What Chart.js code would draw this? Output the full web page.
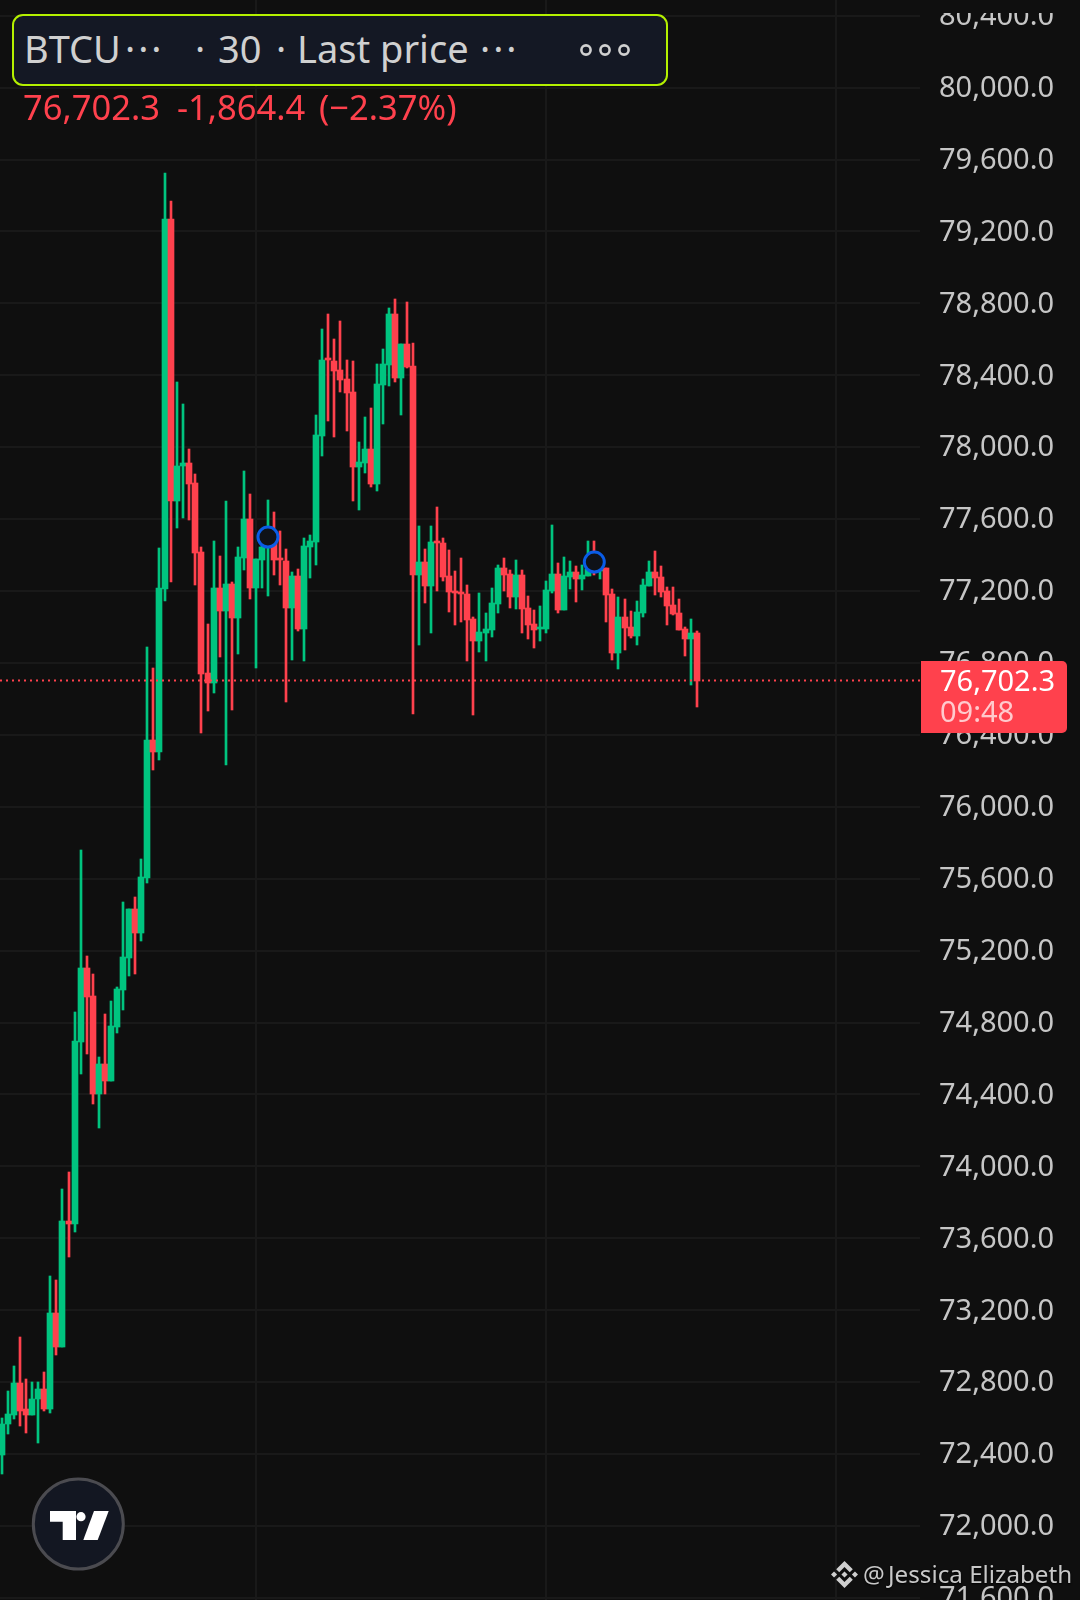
<!DOCTYPE html>
<html>
<head>
<meta charset="utf-8">
<title>BTCU 30 Last price</title>
<script src="https://cdn.jsdelivr.net/npm/chart.js@4"></script>
<style>
html,body{margin:0;padding:0;background:#0f0f0f;width:1080px;height:1600px;overflow:hidden}
body{position:relative;font-family:"Noto Sans",sans-serif}
canvas{position:absolute;left:0;top:0}
.t{position:absolute;white-space:pre;line-height:1}
.h{font-size:38px;color:#d0d0d0;top:29px}
.d{letter-spacing:3px}
.r{font-size:34.5px;color:#ff414d;top:90px}
#head{position:absolute;left:11.5px;top:14px;width:652px;height:68px;border:2px solid #b4f000;border-radius:11px;background:#141824}
#priceTag{position:absolute;left:921px;top:661px;width:146px;height:72px;background:#ff414d;border-radius:0 5px 5px 0}
#topCover{position:absolute;left:921px;top:0;width:159px;height:13px;background:#0f0f0f}
</style>
</head>
<body>
<canvas id="c" width="1080" height="1600"></canvas>
<div id="topCover"></div>
<div id="head"></div>
<div class="t h" style="left:24px">BTCU</div>
<div class="t h d" style="left:125px">···</div>
<div class="t h" style="left:195px">·</div>
<div class="t h" style="left:218px">30</div>
<div class="t h" style="left:276px">·</div>
<div class="t h" style="left:297px">Last price</div>
<div class="t h d" style="left:480px">···</div>
<svg style="position:absolute;left:575px;top:40px" width="62" height="20">
  <circle cx="11" cy="10" r="4.6" fill="none" stroke="#d0d0d0" stroke-width="2.6"/>
  <circle cx="30" cy="10" r="4.6" fill="none" stroke="#d0d0d0" stroke-width="2.6"/>
  <circle cx="49" cy="10" r="4.6" fill="none" stroke="#d0d0d0" stroke-width="2.6"/>
</svg>
<div class="t r" style="left:23px">76,702.3</div>
<div class="t r" style="left:177px">-1,864.4</div>
<div class="t r" style="left:319px">(−2.37%)</div>
<div id="priceTag"></div>
<div class="t" style="left:940px;top:665px;font-size:29px;color:#ffffff">76,702.3</div>
<div class="t" style="left:940px;top:696px;font-size:29px;color:rgba(255,255,255,.72)">09:48</div>
<svg style="position:absolute;left:0;top:1470px" width="140" height="110">
  <circle cx="78.3" cy="54" r="45" fill="#131722" stroke="#4b4b50" stroke-width="3"/>
  <path d="M50 41H76V70H62.7V51.7H50Z" fill="#fff"/>
  <circle cx="81" cy="46.7" r="4.6" fill="#fff"/>
  <path d="M94 41H108.7L97.7 70H83.3Z" fill="#fff"/>
</svg>
<svg style="position:absolute;left:830.5px;top:1560.5px" width="27" height="27" viewBox="0 0 126.61 126.61">
  <path fill="#cfcfcf" d="M38.73 53.2l24.59-24.58 24.6 24.6 14.3-14.31L63.32 0 24.43 38.89zM0 63.31l14.3-14.31 14.31 14.31-14.31 14.3zM38.73 73.41l24.59 24.59 24.6-24.6 14.31 14.29-38.9 38.91-38.91-38.88-.02-.02zM98 63.31l14.3-14.31 14.31 14.3-14.31 14.32zM77.83 63.3L63.32 48.78 52.59 59.51l-1.24 1.23-2.54 2.54 14.51 14.5 14.51-14.47z"/>
</svg>
<div class="t" style="left:863px;top:1562px;font-size:24.2px;color:#c8c8c8;text-shadow:0 1px 2px #000">@</div>
<div class="t" style="left:888px;top:1562px;font-size:24.2px;color:#c8c8c8;text-shadow:0 1px 2px #000">Jessica Elizabeth</div>

<script>
const opens = [72397,72566,72618,72797,72648,72618,72705,72764,72648,73186,72998,73697,73677,74693,75105,74948,74402,74571,74477,74777,74981,75159,75432,75298,75604,76373,76307,77212,79270,77702,77894,77911,77801,77419,76746,76691,77219,77089,77241,77052,77384,77601,77219,77373,77447,77520,77381,77368,77107,77285,76990,77445,77474,78065,78491,78480,78429,78379,78307,77890,77912,77990,77796,78346,78457,78741,78385,78574,78451,77290,77362,77229,77479,77468,77284,77199,77195,77184,77045,76923,76967,76984,77128,77328,77295,77167,77289,77106,77017,76989,76989,77200,77295,77094,77278,77306,77267,77283,77330,77310,77328,77183,76855,77056,77000,76950,77078,77228,77306,77278,77200,77122,77078,76989,76933,76967];
const highs = [72603,72752,72891,73052,72819,72801,72801,72858,73392,73370,73876,73970,74859,75760,75172,75070,74608,74849,74921,74998,75472,75432,75499,75710,76889,76773,77441,79524,79368,78364,78241,77990,77852,77445,77019,77478,77397,77702,77252,77445,77867,77740,77379,77450,77707,77641,77535,77434,77307,77324,77496,77513,78179,78658,78742,78602,78702,78485,78479,78029,78168,78218,78463,78546,78774,78824,78574,78807,78579,77562,77434,77562,77668,77495,77429,77312,77384,77234,77056,77190,77078,77217,77345,77384,77317,77372,77317,77172,77094,77117,77256,77567,77356,77389,77367,77339,77345,77478,77478,77340,77328,77211,77167,77156,77089,77144,77267,77367,77422,77339,77220,77222,77156,77000,77044,76978];
const lows = [72290,72509,72595,72558,72518,72618,72464,72640,72630,72953,72998,73496,73635,74514,74626,74348,74214,74402,74477,74742,74871,75060,75068,75254,75576,76206,76263,77146,77252,77551,77608,77597,77234,76412,76535,76634,76834,76234,76540,76852,77318,77157,76773,77219,77173,77289,77234,76584,76817,76979,76812,77274,77346,77951,78146,78057,78307,78090,77701,77651,77857,77779,77757,78129,78340,78363,78179,78442,76517,76901,77134,76967,77201,77256,77084,77012,77028,76812,76511,76862,76812,76945,77078,77200,77106,77100,76967,76933,76883,76922,76967,77189,77078,77094,77211,77139,77206,77283,77290,77269,77028,76817,76767,76872,76939,76900,77056,77228,77178,77167,77011,77067,76983,76839,76678,76555];
const closes = [72568,72625,72797,72640,72618,72707,72764,72648,73186,72998,73697,73677,74698,75105,74943,74402,74571,74477,74782,74988,75164,75432,75298,75611,76373,76307,77219,79270,77702,77894,77911,77795,77414,76740,76691,77219,77089,77241,77052,77390,77601,77219,77379,77447,77520,77373,77373,77107,77285,76990,77452,77478,78069,78485,78483,78424,78374,78301,77890,77918,77990,77796,78351,78463,78741,78385,78574,78446,77290,77362,77229,77473,77468,77279,77195,77190,77186,77039,76923,76973,76990,77134,77329,77289,77167,77289,77100,77011,76983,77000,77206,77295,77094,77283,77306,77267,77289,77320,77315,77328,77178,76855,77056,76994,76950,77083,77233,77306,77272,77195,77117,77072,76983,76933,76967,76702.3];
const priceTicks = [71600,72000,72400,72800,73200,73600,74000,74400,74800,75200,75600,76000,76400,76800,77200,77600,78000,78400,78800,79200,79600,80000,80400];
const dayLines = [42,90,138];
const markerIndex = [44,98];
const markerPrice = [77500,77361];
const lastPrice = 76702.3;

const UP = '#00c47f', DOWN = '#ff414d';
const colors = closes.map((c,i)=> c>=opens[i] ? UP : DOWN);
const fmt = new Intl.NumberFormat('en-US',{minimumFractionDigits:1,maximumFractionDigits:1});
const xMin = -0.3376, xMax = 151.89;

// Snap the library's bar elements to whole device pixels so the candles stay crisp.
const snapBars = {
  id:'snapBars',
  beforeDatasetsDraw(chart){
    chart.data.datasets.forEach((d,i)=>{
      if(d.type!=='bar') return;
      chart.getDatasetMeta(i).data.forEach(el=>{
        el.x=Math.round(el.x); el.y=Math.round(el.y); el.base=Math.round(el.base);
      });
    });
  }
};

new Chart(document.getElementById('c').getContext('2d'),{
  plugins:[snapBars],
  data:{datasets:[
    {type:'bar',order:3,grouped:false,barThickness:2,backgroundColor:colors,
     data:closes.map((_,i)=>({x:i,y:[lows[i],highs[i]]}))},
    {type:'bar',order:2,grouped:false,barThickness:6,minBarLength:2,backgroundColor:colors,
     data:closes.map((c,i)=>({x:i,y:[opens[i],c]}))},
    {type:'line',order:1,borderColor:DOWN,borderWidth:2,borderDash:[2,4],pointRadius:0,
     data:[{x:xMin,y:lastPrice},{x:xMax,y:lastPrice}]},
    {type:'line',order:0,showLine:false,pointRadius:10,pointBorderWidth:3,pointBorderColor:'#0a5ce6',pointBackgroundColor:'#0f1218',
     data:markerIndex.map((x,i)=>({x,y:markerPrice[i]}))}
  ]},
  options:{
    responsive:false,animation:false,
    layout:{padding:0,autoPadding:false},
    plugins:{legend:{display:false},tooltip:{enabled:false}},
    scales:{
      x:{type:'linear',min:xMin,max:xMax,display:true,offset:false,
         afterBuildTicks(s){s.ticks=dayLines.map(v=>({value:v}));},
         afterFit(s){s.height=0;s.paddingLeft=0;s.paddingRight=0;},
         ticks:{display:false},border:{display:false},
         grid:{offset:false,color:'#191919',lineWidth:2,drawTicks:false}},
      y:{position:'right',min:71588.4,max:80487.2,
         afterBuildTicks(s){s.ticks=priceTicks.map(v=>({value:v}));},
         afterFit(s){s.width=160;s.paddingTop=0;s.paddingBottom=0;},
         border:{display:false},
         grid:{color:'#191919',lineWidth:2,drawTicks:false},
         ticks:{autoSkip:false,padding:19,labelOffset:1,color:'#c6c6c6',font:{family:'"Noto Sans"',size:29},
                callback:v=>fmt.format(v)}}
    }
  }
});
</script>
</body>
</html>
